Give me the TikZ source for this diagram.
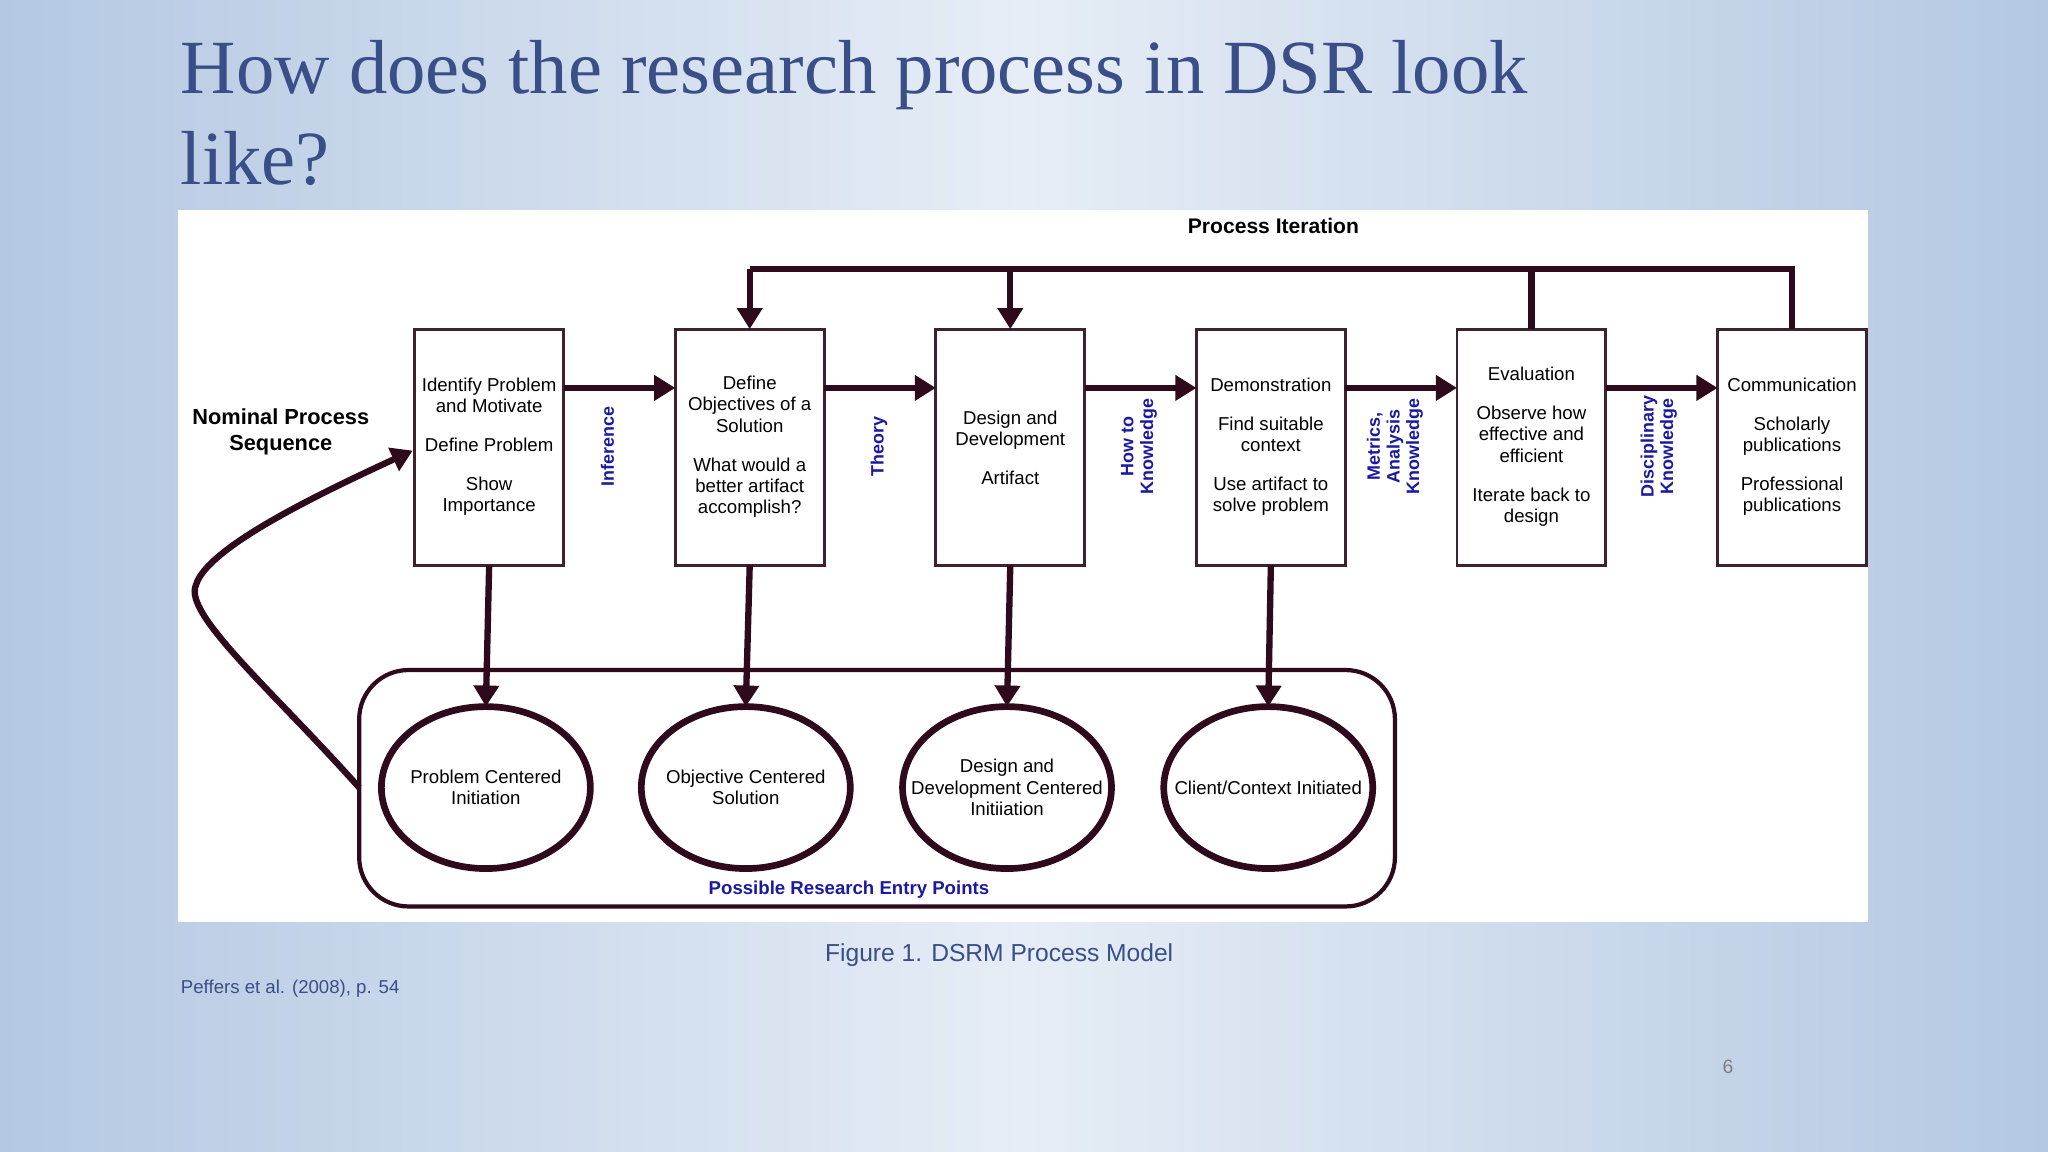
\documentclass[tikz,border=0pt]{standalone}
\usepackage{fontspec}
\setmainfont{Liberation Sans}
\newfontfamily\seriff{Liberation Serif}
\usetikzlibrary{arrows.meta}
\definecolor{ttl}{HTML}{3A4E88}
\definecolor{ln}{HTML}{2E0A1C}
\definecolor{bl}{HTML}{1A1AA0}
\definecolor{bgedge}{HTML}{B4C8E2}
\definecolor{bgmid}{HTML}{E6EDF6}
\begin{document}
\begin{tikzpicture}[x=0.013061cm,y=-0.013061cm,
 conn/.style={draw=ln,line width=1.8pt,-{Triangle[length=6pt,width=7pt]}},
 vl/.style={rotate=90,text=bl,font=\bfseries\fontsize{5.1}{5.6}\selectfont,align=center},
 lbl/.style={align=center,font=\fontsize{5.3}{6.1}\selectfont}]
\useasboundingbox (0,0) rectangle (1568,882);
\shade[left color=bgedge, right color=bgedge, middle color=bgmid] (0,0) rectangle (1568,882);
\fill[white] (136,161) rectangle (1430,706);
\node[anchor=north west,text=ttl,align=left,font=\seriff\fontsize{21.8}{26}\selectfont,inner sep=0] (title) at (138,30) {How does the research process in DSR look\\like?};
\node[font=\bfseries\fontsize{6}{7}\selectfont] (pi) at (975,173) {Process Iteration};
\foreach \n/\x in {b1/374.5,b2/574,b3/773.5,b4/973,b5/1172.5,b6/1372}{
 \draw[draw=ln!80!gray,line width=0.8pt] (\x-57,252) rectangle (\x+57,433);
 \coordinate (\n t) at (\x,252); \coordinate (\n b) at (\x,433);
 \coordinate (\n l) at (\x-57,297); \coordinate (\n r) at (\x+57,297);}
\node[lbl] (t1) at (374.5,342) {Identify Problem\\and Motivate\\[5pt]Define Problem\\[5pt]Show\\Importance};
\node[lbl] (t2) at (574,342) {Define\\Objectives of a\\Solution\\[5pt]What would a\\better artifact\\accomplish?};
\node[lbl] (t3) at (773.5,343) {Design and\\Development\\[5pt]Artifact};
\node[lbl] (t4) at (973,342) {Demonstration\\[5pt]Find suitable\\context\\[5pt]Use artifact to\\solve problem};
\node[lbl] (t5) at (1172.5,342) {Evaluation\\[5pt]Observe how\\effective and\\efficient\\[5pt]Iterate back to\\design};
\node[lbl] (t6) at (1372,342) {Communication\\[5pt]Scholarly\\publications\\[5pt]Professional\\publications};
\draw[conn] (b1r) -- (b2l); \draw[conn] (b2r) -- (b3l); \draw[conn] (b3r) -- (b4l);
\draw[conn] (b4r) -- (b5l); \draw[conn] (b5r) -- (b6l);
\node[vl] (v1) at (465,342) {Inference};
\node[vl] (v2) at (673,342) {Theory};
\node[vl] (v3) at (872,342) {How to\\Knowledge};
\node[vl] (v4) at (1068,342) {Metrics,\\Analysis\\Knowledge};
\node[vl] (v5) at (1270,342) {Disciplinary\\Knowledge};
\coordinate (i1) at (574,206); \coordinate (i2) at (1372,206);
\draw[ln,line width=1.8pt] (b5t) -- (1172.5,206); \draw[ln,line width=1.8pt] (b6t) -- (i2) -- (i1);
\draw[conn] (i1) -- (b2t); \draw[conn] (773.5,206) -- (b3t);
\draw[ln,line width=1.2pt,rounded corners=14pt] (275,513) rectangle (1068,694);
\foreach \n/\x in {e1/372,e2/571,e3/771,e4/971}{
 \draw[ln,line width=1.9pt] (\x,603) ellipse [x radius=80,y radius=62];
 \coordinate (\n) at (\x,541);}
\node[lbl] (l1) at (372,603) {Problem Centered\\Initiation};
\node[lbl] (l2) at (571,603) {Objective Centered\\Solution};
\node[lbl] (l3) at (771,603) {Design and\\Development Centered\\Initiiation};
\node[lbl] (l4) at (971,603) {Client/Context Initiated};
\draw[conn] (b1b) -- (e1); \draw[conn] (b2b) -- (e2); \draw[conn] (b3b) -- (e3); \draw[conn] (b4b) -- (e4);
\node[text=bl,font=\bfseries\fontsize{5.3}{6}\selectfont] (pe) at (650,681) {Possible Research Entry Points};
\node[align=center,font=\bfseries\fontsize{6.2}{7.4}\selectfont] (nps) at (215,331) {Nominal Process\\Sequence};
\coordinate (cs) at (275,603); \coordinate (cm) at (150,448); \coordinate (ce) at (316,345);
\draw[conn] (cs) .. controls (210,530) and (140,470) .. (cm) .. controls (158,420) and (240,380) .. (ce);
\node[text=ttl,font=\fontsize{7}{8}\selectfont] (cap) at (765,731) {Figure 1. DSRM Process Model};
\node[anchor=west,text=ttl,font=\fontsize{5.3}{6}\selectfont,inner sep=0] (ref) at (138,757) {Peffers et al. (2008), p. 54};
\node[text=gray,font=\fontsize{5.5}{6}\selectfont] (pg) at (1323,817) {6};
\end{tikzpicture}
\end{document}
